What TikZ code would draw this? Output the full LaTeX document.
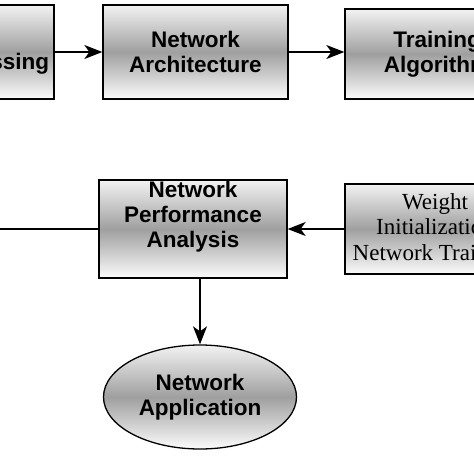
\documentclass[tikz,border=0pt]{standalone}
\usepackage{fontspec}
\setmainfont{Liberation Serif}
\setsansfont{Liberation Sans}
\usetikzlibrary{arrows.meta,shapes.geometric}

\begin{document}
\begin{tikzpicture}[x=1pt, y=-1pt]

\tikzstyle{block} = [rectangle, draw=black, line width=1.3pt, align=center,
  top color=gray!10, bottom color=gray!3, middle color=gray!75,
  font=\fontsize{22.5}{25}\selectfont\sffamily\bfseries]
\tikzstyle{serifblock} = [block, font=\fontsize{23}{25.5}\selectfont\rmfamily]
\tikzstyle{arrow} = [line width=1.3pt, -{Stealth[length=18pt, width=14pt, inset=5pt]}]

\clip (0,0) rectangle (474,474);

\node[block, minimum width=166pt, minimum height=94pt] (prep) at (-29,52) {Data\\Preprocessing};
\node[block, minimum width=185pt, minimum height=94pt] (arch) at (195.5,52) {Network\\Architecture};
\node[block, minimum width=184pt, minimum height=90pt] (train) at (437,54) {Training\\Algorithm};

\node[block, minimum width=188pt, minimum height=98pt, inner ysep=0pt, text depth=29pt] (perf) at (193,229) {Network\\Performance\\Analysis};
\node[serifblock, minimum width=180pt, minimum height=90pt] (weight) at (435,229) {Weight\\Initialization\\Network Training};
\coordinate (out) at (-20,229);

\node[block, ellipse, minimum width=193pt, minimum height=104pt] (app) at (200,397) {Network\\Application};

\draw[arrow] (prep) -- (arch);
\draw[arrow] (arch.east) -- (arch.east -| train.west);
\draw[arrow] (weight) -- (perf);
\draw[line width=1.3pt] (perf) -- (out);
\draw[arrow] (perf.south -| app.north) -- (app.north);

\end{tikzpicture}
\end{document}
